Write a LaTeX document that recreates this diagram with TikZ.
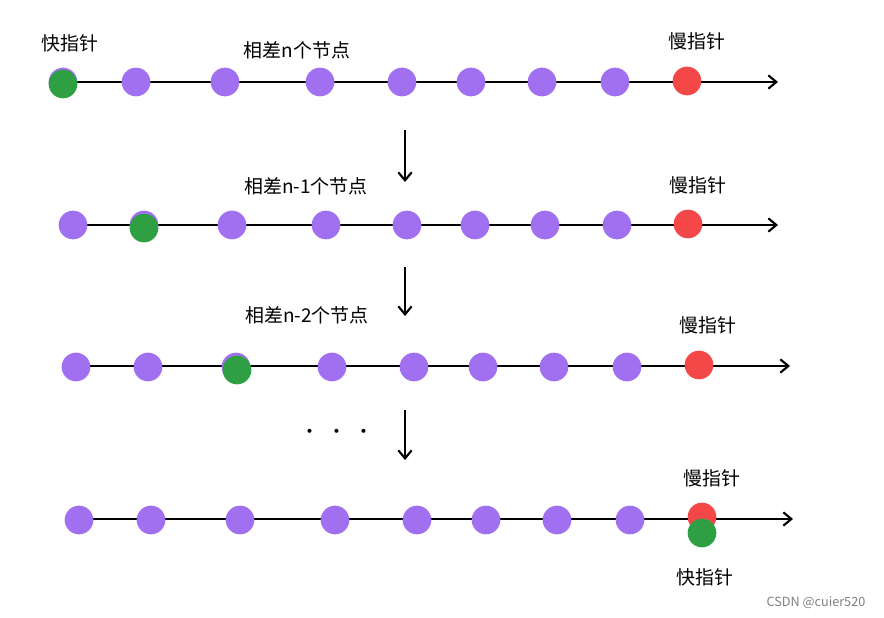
\documentclass[tikz,border=0pt]{standalone}
\usepackage{fontspec}
\setmainfont{Noto Sans CJK SC}
\usetikzlibrary{arrows.meta}
\definecolor{pur}{HTML}{A070F0}
\definecolor{grn}{HTML}{2EA043}
\definecolor{rd}{HTML}{F44848}
\begin{document}
\begin{tikzpicture}[x=0.75pt,y=-0.75pt,
  dot/.style={circle,inner sep=0pt,minimum size=21.5pt},
  p/.style={dot,fill=pur},g/.style={dot,fill=grn},r/.style={dot,fill=rd},
  ln/.style={line width=1.6pt,-{Straight Barb[length=6pt,width=10pt]}},
  lab/.style={font=\fontsize{14.2}{16}\selectfont}]
\useasboundingbox (0,0) rectangle (884,617);
% row 1
\coordinate (s1) at (55,82); \coordinate (e1) at (778,82);
\draw[ln] (s1) -- (e1);
\foreach \x [count=\i] in {63,136,225,320,402,471,542,615}{\node[p] (a\i) at (\x,82) {};}
\node[g] (g1) at (63,84) {}; \node[r] (r1) at (687,81) {};
\node[lab] (t1) at (70,43) {快指针};
\node[lab] (t2) at (297,50) {相差n个节点};
\node[lab] (t3) at (697,41) {慢指针};
\coordinate (d1a) at (405,130); \coordinate (d1b) at (405,182);
\draw[ln] (d1a) -- (d1b);
% row 2
\coordinate (s2) at (70,225); \coordinate (e2) at (778,225);
\draw[ln] (s2) -- (e2);
\foreach \x [count=\i] in {73,144,232,326,407,475,545,617}{\node[p] (b\i) at (\x,225) {};}
\node[g] (g2) at (144,228) {}; \node[r] (r2) at (688,224) {};
\node[lab] (u2) at (306,186) {相差n-1个节点};
\node[lab] (u3) at (698,185) {慢指针};
\coordinate (d2a) at (405,267); \coordinate (d2b) at (405,316);
\draw[ln] (d2a) -- (d2b);
% row 3
\coordinate (s3) at (75,366); \coordinate (e3) at (790,366);
\draw[ln] (s3) -- (e3);
\foreach \x [count=\i] in {76,148,236,332,414,483,554,627}{\node[p] (c\i) at (\x,367) {};}
\node[g] (g3) at (237,370) {}; \node[r] (r3) at (699,365) {};
\node[lab] (v2) at (307,315) {相差n-2个节点};
\node[lab] (v3) at (708,325) {慢指针};
\node[lab] (dots) at (337,434) {·\ \ ·\ \ ·};
\coordinate (d3a) at (405,410); \coordinate (d3b) at (405,460);
\draw[ln] (d3a) -- (d3b);
% row 4
\coordinate (s4) at (70,519); \coordinate (e4) at (793,519);
\draw[ln] (s4) -- (e4);
\foreach \x [count=\i] in {79,151,240,335,417,486,557,630}{\node[p] (f\i) at (\x,520) {};}
\node[r] (r4) at (702,517) {}; \node[g] (g4) at (702,533) {};
\node[lab] (w3) at (712,478) {慢指针};
\node[lab] (w1) at (705,577) {快指针};
\node[font=\fontsize{9.5}{11}\selectfont,text=gray] (wm) at (816,603) {CSDN @cuier520};
\end{tikzpicture}
\end{document}
